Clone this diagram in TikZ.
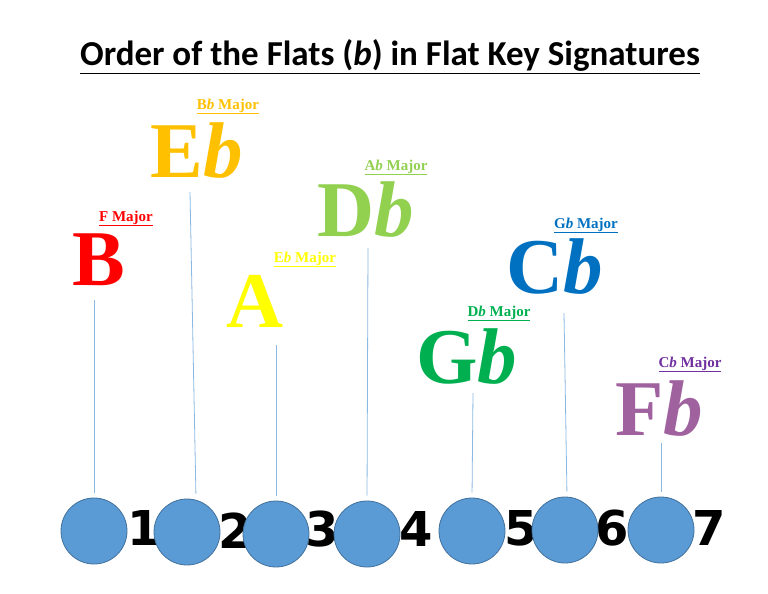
\documentclass[tikz,border=0pt]{standalone}
\usepackage{fontspec}
\setmainfont{Liberation Serif}
\newfontfamily\titlefont{Carlito}
\newfontfamily\numfont{DejaVu Sans}
\usetikzlibrary{positioning}

\definecolor{flatred}{RGB}{255,0,0}
\definecolor{flatgold}{RGB}{255,192,0}
\definecolor{flatyellow}{RGB}{255,255,0}
\definecolor{flatlime}{RGB}{146,208,80}
\definecolor{flatgreen}{RGB}{0,176,80}
\definecolor{flatblue}{RGB}{0,112,192}
\definecolor{flatmauve}{RGB}{160,98,159}
\definecolor{flatpurple}{RGB}{112,48,160}
\definecolor{dotfill}{RGB}{91,155,213}
\definecolor{dotedge}{RGB}{65,113,156}

\tikzset{
	flat/.style={anchor=base, inner sep=0pt, text depth=0pt, font=\fontsize{79}{79}\selectfont\bfseries},
	key/.style={anchor=base, inner sep=0pt, font=\fontsize{15}{15}\selectfont\bfseries},
	dot/.style={circle, fill=dotfill, draw=dotedge, line width=0.8pt, minimum size=66pt, inner sep=0pt},
	num/.style={anchor=center, inner sep=0pt, font=\fontsize{48}{48}\selectfont\numfont\bfseries},
	stem/.style={draw=dotfill!70, line width=0.8pt, shorten >=5pt}
}

\begin{document}
\begin{tikzpicture}[x=1pt, y=-1pt]
					\useasboundingbox (0,0) rectangle (768,594);

					\node[anchor=base, inner sep=0pt, font=\fontsize{35}{35}\selectfont\titlefont\bfseries] (title) at (390,66) {\underline{Order of the Flats (\textit{b}) in Flat Key Signatures}};

					%% flats, in order
					\node[flat, text=flatred] (f1) at (99,285) {B};
					\node[flat, text=flatgold] (f2) at (197,177) {E\textit{b}};
					\node[flat, text=flatyellow] (f3) at (255,327) {A};
					\node[flat, text=flatlime] (f4) at (366,236) {D\textit{b}};
					\node[flat, text=flatgreen] (f5) at (467,383) {G\textit{b}};
					\node[flat, text=flatblue] (f6) at (555,293) {C\textit{b}};
					\node[flat, text=flatmauve] (f7) at (659,435) {F\textit{b}};

					%% key names
					\node[key, text=flatred] (k1) at (126,221) {\underline{F Major}};
					\node[key, text=flatgold] (k2) at (228,109) {\underline{B\textit{b} Major}};
					\node[key, text=flatyellow] (k3) at (305,262) {\underline{E\textit{b} Major}};
					\node[key, text=flatlime] (k4) at (396,170) {\underline{A\textit{b} Major}};
					\node[key, text=flatgreen] (k5) at (499,316) {\underline{D\textit{b} Major}};
					\node[key, text=flatblue] (k6) at (586,228) {\underline{G\textit{b} Major}};
					\node[key, text=flatpurple] (k7) at (690,367) {\underline{C\textit{b} Major}};

					%% numbers
					\node[num] (n1) at (144,528) {1};
					\node[num] (n2) at (235,531) {2};
					\node[num] (n3) at (322,529) {3};
					\node[num] (n4) at (416,529) {4};
					\node[num] (n5) at (521,528) {5};
					\node[num] (n6) at (612,528) {6};
					\node[num] (n7) at (709,528) {7};

					\node[dot] (c1) at (94,531) {};
					\node[dot] (c2) at (187,532) {};
					\node[dot] (c3) at (276,534) {};
					\node[dot] (c4) at (367,534) {};
					\node[dot] (c5) at (472,531) {};
					\node[dot] (c6) at (565,530) {};
					\node[dot] (c7) at (661,530) {};

					\coordinate (t1) at (94,300);
					\coordinate (t2) at (190,192);
					\coordinate (t3) at (276,345);
					\coordinate (t4) at (368,248);
					\coordinate (t5) at (473,393);
					\coordinate (t6) at (564,313);
					\coordinate (t7) at (661,443);

					\draw[stem] (t1) -- (c1.north);
					\draw[stem] (t2) -- ([xshift=9pt]c2.north);
					\draw[stem] (t3) -- (c3.north);
					\draw[stem] (t4) -- (c4.north);
					\draw[stem] (t5) -- (c5.north);
					\draw[stem] (t6) -- ([xshift=2pt]c6.north);
					\draw[stem] (t7) -- (c7.north);
				\end{tikzpicture}
\end{document}
